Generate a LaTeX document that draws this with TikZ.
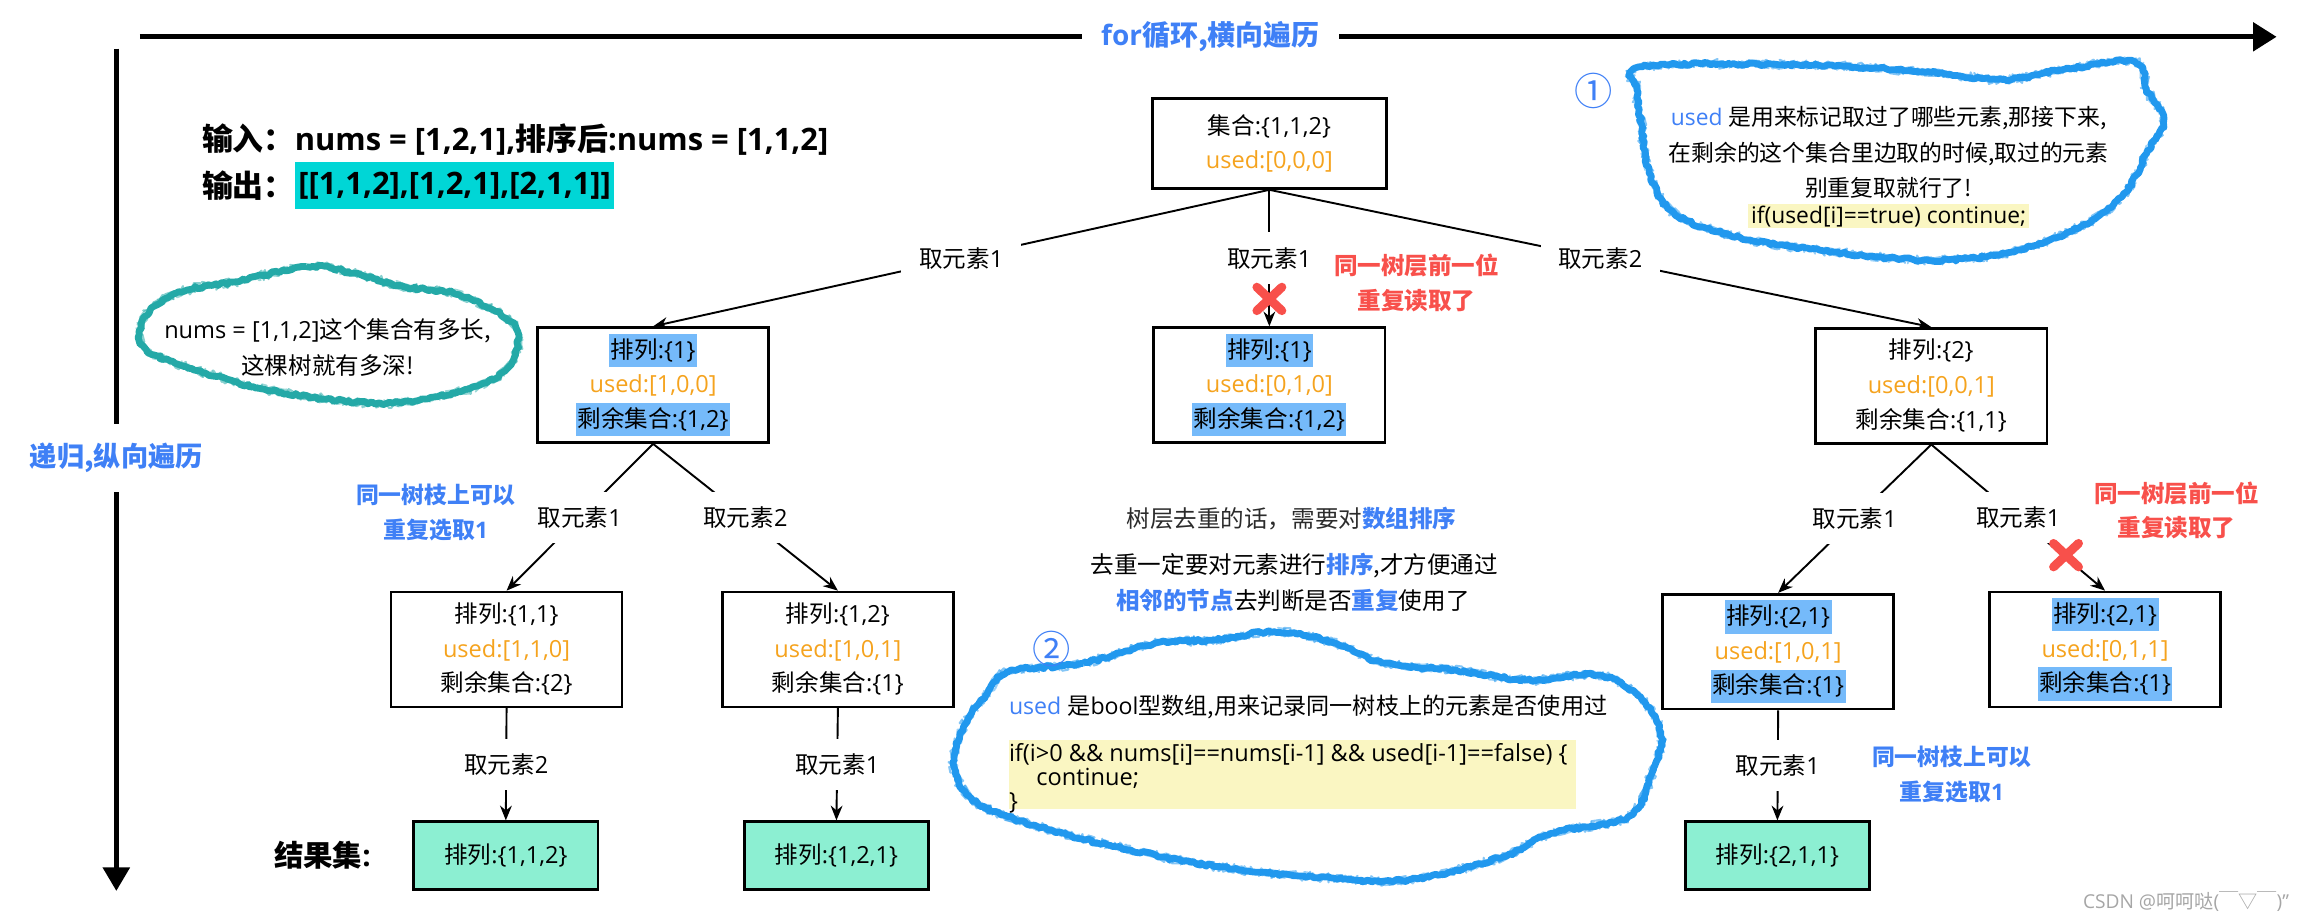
\documentclass[tikz,border=0pt]{standalone}
\usepackage{fontspec}
\setmainfont{Open Sans}
\newfontfamily\cjkfont{Noto Sans CJK SC}
\usetikzlibrary{arrows.meta,decorations.pathmorphing}

\definecolor{axisblue}{HTML}{3F80F6}
\definecolor{usedorange}{HTML}{F5A31E}
\definecolor{warnred}{HTML}{F8504B}
\definecolor{hlblue}{HTML}{75BAFA}
\definecolor{hlcyan}{HTML}{00D6D6}
\definecolor{resmint}{HTML}{8CEFD2}
\definecolor{codeyellow}{HTML}{FAF6C2}
\definecolor{tealink}{HTML}{24A9A7}
\definecolor{skyink}{HTML}{2198EE}
\definecolor{markgray}{HTML}{A6A6A6}
\definecolor{darktext}{HTML}{2B2B2B}

% CJK runs use the CJK font, everything else the Latin one
\newcommand\Zh[1]{{\cjkfont #1}}
\newcommand\LineStrut{\rule[-6pt]{0pt}{22.5pt}}
\newcommand\HiBlue[1]{{\setlength{\fboxsep}{0pt}\colorbox{hlblue}{\kern1pt#1\kern1pt}}}
\newcommand\PermLine[1]{\LineStrut\Zh{排列}:\{#1\}}
\newcommand\RestLine[1]{\LineStrut\Zh{剩余集合}:\{#1\}}
\newcommand\UsedLine[1]{\LineStrut\textcolor{usedorange}{used:[#1]}}

\tikzset{
  statebox/.style={draw, line width=1.8pt, minimum width=157pt, minimum height=78pt,
    inner sep=0pt, align=center, font=\fontsize{16}{23.5}\selectfont},
  resultbox/.style={draw, line width=1.8pt, fill=resmint, minimum width=125pt,
    minimum height=46pt, inner sep=0pt, font=\fontsize{16}{20}\selectfont},
  picklabel/.style={fill=white, inner xsep=12pt, inner ysep=10pt,
    font=\fontsize{16}{20}\selectfont},
  treeedge/.style={line width=1.3pt, -{Stealth[length=10pt,width=8pt]}},
  axisline/.style={line width=3.6pt},
  axislabel/.style={text=axisblue, font=\fontsize{19}{22}\selectfont\bfseries},
  annot/.style={align=center, font=\fontsize{15.5}{24}\selectfont\bfseries},
  crossmark/.style={warnred, line width=6pt, line cap=round},
  % crayon-like outline: a solid core plus two rough, half-transparent passes
  bubbleink/.style={
    preaction={draw=#1, line width=4.6pt, line join=round, decorate,
      decoration={random steps, segment length=2pt, amplitude=1pt}},
    postaction={draw=#1, line width=1.4pt, opacity=0.55, line join=round, decorate,
      decoration={random steps, segment length=1.4pt, amplitude=3.4pt}},
    postaction={draw=#1, line width=1.1pt, opacity=0.45, line join=round, decorate,
      decoration={random steps, segment length=1.2pt, amplitude=3pt}}},
}

\begin{document}
\begin{tikzpicture}[x=1pt,y=-1pt]
\useasboundingbox (0,0) rectangle (1568,625.4);
\pgfmathsetseed{42}

% ---------- axes ----------
\coordinate (hs) at (95,25);
\coordinate (he) at (1546,25);
\node[axislabel, inner xsep=13pt] (ftext) at (822,25) {for\Zh{循环,横向遍历}};
\draw[axisline] (hs) -- (ftext.west);
\draw[axisline, -{Triangle[length=16pt,width=19pt]}] (ftext.east) -- (he);

\coordinate (vs) at (79,33);
\coordinate (ve) at (79,605);
\node[axislabel, font=\fontsize{18.5}{22}\selectfont\bfseries, inner ysep=13pt] (vtext) at (79,311) {\Zh{递归,纵向遍历}};
\draw[line width=3pt] (vs) -- (vtext.north);
\draw[line width=3pt, -{Triangle[length=16pt,width=18pt]}] (vtext.south) -- (ve);

% ---------- input / output ----------
\node[anchor=west, inner sep=0pt, font=\fontsize{21}{24}\selectfont\bfseries] (inp) at (137,95)
  {\Zh{输入：}nums = [1,2,1],\Zh{排序后}:nums = [1,1,2]};
\node[anchor=west, inner sep=0pt, font=\fontsize{21}{24}\selectfont\bfseries] (outlbl) at (137,126)
  {\Zh{输出：}};
\node[anchor=west, fill=hlcyan, inner xsep=2pt, inner ysep=0pt, minimum height=31.5pt,
  font=\fontsize{21}{24}\selectfont\bfseries] (outval) at (outlbl.east)
  {[[1,1,2],[1,2,1],[2,1,1]]};

% ---------- hand-drawn bubbles ----------
\path[bubbleink=tealink] plot[smooth cycle, tension=0.6] coordinates {
  (160.7,191.3) (208.3,181.1) (240,185.6) (273.9,194.7) (307.9,199) (335,210.5)
  (350.9,224) (348.6,244.5) (330.5,260) (296.5,269.4) (262.6,273.9) (217.3,270.5)
  (172,262.6) (126.8,249) (99.6,237.7) (95,224) (104.1,208.3) (126.8,197)};
\node[align=center, font=\fontsize{16}{24}\selectfont] (depthnote) at (222.5,236)
  {nums = [1,1,2]\Zh{这个集合有多长,}\\\Zh{这棵树就有多深!}};

\path[bubbleink=skyink] plot[smooth cycle, tension=0.6] coordinates {
  (1115.8,45.3) (1221.4,44.1) (1305.9,48.7) (1360,54) (1400,47.5) (1449.5,41.9)
  (1457.9,61.1) (1469.2,81.5) (1457.9,104) (1441,133.6) (1412.9,153.9) (1362.2,172)
  (1305.9,176.6) (1235.5,169.8) (1179.2,160.7) (1137,144.9) (1120,117.7)
  (1114.5,83.7) (1111.7,61.1)};
\node[text=axisblue, font=\fontsize{26}{26}\selectfont] (numone) at (1082,62) {\Zh{①}};
\node[align=center, font=\fontsize{15.5}{24}\selectfont] (usednote) at (1282.5,103.5)
  {\textcolor{axisblue}{used} \Zh{是用来标记取过了哪些元素,那接下来,}\\
   \Zh{在剩余的这个集合里边取的时候,取过的元素}\\\Zh{别重复取就行了!}};
\node[fill=codeyellow, inner xsep=2pt, inner ysep=1pt, font=\fontsize{15.5}{18}\selectfont]
  (code1) at (1282.5,147) {if(used[i]==true) continue;};

\path[bubbleink=skyink] plot[smooth cycle, tension=0.6] coordinates {
  (685,456.1) (735.4,450.4) (784.1,436.9) (826.3,434.6) (865.2,429) (907.4,436.9)
  (940,450.4) (988.6,455) (1037.3,461.8) (1085.9,458.4) (1115,475.3) (1128,498)
  (1121.7,525.2) (1105.5,554.6) (1053.2,565.9) (1021,581.7) (956.1,597.6)
  (891.2,595.3) (826.3,588.5) (767.9,577.2) (712.7,563.6) (664,545.5)
  (647.8,520.6) (654.3,493.5) (670.5,470.8)};
\node[text=axisblue, font=\fontsize{26}{26}\selectfont] (numtwo) at (714,441) {\Zh{②}};
\node[anchor=west, inner sep=0pt, font=\fontsize{15.7}{20}\selectfont] (boolnote) at (685,480)
  {\textcolor{axisblue}{used} \Zh{是}bool\Zh{型数组,用来记录同一树枝上的元素是否使用过}};
\node[fill=codeyellow, anchor=north west, minimum width=385pt, minimum height=46.5pt,
  inner sep=0pt] (code2bg) at (685,502.5) {};
\node[anchor=north west, inner sep=0pt, align=left, font=\fontsize{16}{16}\selectfont]
  (code2) at (685,505)
  {if(i>0 \&\& nums[i]==nums[i-1] \&\& used[i-1]==false) \{\\\hspace*{18.6pt}continue;\\\}};

% ---------- explanation in the middle ----------
\node[font=\fontsize{16}{20}\selectfont, text=darktext] (sortnote) at (877,352)
  {\Zh{树层去重的话，需要对}\textcolor{axisblue}{\bfseries\Zh{数组排序}}};
\node[font=\fontsize{16}{20}\selectfont] (sortnote2) at (879,384)
  {\Zh{去重一定要对元素进行}\textcolor{axisblue}{\bfseries\Zh{排序}}\Zh{,才方便通过}};
\node[font=\fontsize{16}{20}\selectfont] (sortnote3) at (878,407.5)
  {\textcolor{axisblue}{\bfseries\Zh{相邻的节点}}\Zh{去判断是否}\textcolor{axisblue}{\bfseries\Zh{重复}}\Zh{使用了}};

% ---------- tree nodes ----------
\node[statebox, minimum width=159pt, minimum height=61pt] (root) at (862,97.5)
  {\LineStrut\Zh{集合}:\{1,1,2\}\\\UsedLine{0,0,0}};

\node[statebox] (l1a) at (443.5,261.5)
  {\HiBlue{\PermLine{1}}\\\UsedLine{1,0,0}\\\HiBlue{\RestLine{1,2}}};
\node[statebox] (l1b) at (862,261.5)
  {\HiBlue{\PermLine{1}}\\\UsedLine{0,1,0}\\\HiBlue{\RestLine{1,2}}};
\node[statebox] (l1c) at (1311.5,262)
  {\PermLine{2}\\\UsedLine{0,0,1}\\\RestLine{1,1}};

\node[statebox] (l2a) at (344,441)
  {\PermLine{1,1}\\\UsedLine{1,1,0}\\\RestLine{2}};
\node[statebox] (l2b) at (569,441)
  {\PermLine{1,2}\\\UsedLine{1,0,1}\\\RestLine{1}};
\node[statebox] (l2c) at (1207.5,442.5)
  {\HiBlue{\PermLine{2,1}}\\\UsedLine{1,0,1}\\\HiBlue{\RestLine{1}}};
\node[statebox] (l2d) at (1429.5,441)
  {\HiBlue{\PermLine{2,1}}\\\UsedLine{0,1,1}\\\HiBlue{\RestLine{1}}};

\node[resultbox] (r1) at (343.5,581) {\Zh{排列}:\{1,1,2\}};
\node[resultbox] (r2) at (568,581) {\Zh{排列}:\{1,2,1\}};
\node[resultbox] (r3) at (1207,581) {\Zh{排列}:\{2,1,1\}};

\node[anchor=east, inner sep=0pt, font=\fontsize{20}{24}\selectfont\bfseries] (reslbl) at (252,581)
  {\Zh{结果集}:};

% ---------- tree edges ----------
\draw[treeedge] (root.south) -- node[picklabel] {\Zh{取元素}1} (l1a.north);
\draw[treeedge] (root.south) -- node[picklabel] {\Zh{取元素}1} (l1b.north);
\draw[treeedge] (root.south) -- node[picklabel] {\Zh{取元素}2} (l1c.north);
\draw[treeedge] (l1a.south) -- node[picklabel] {\Zh{取元素}1} (l2a.north);
\draw[treeedge] (l1a.south) -- node[picklabel] {\Zh{取元素}2} (l2b.north);
\draw[treeedge] (l1c.south) -- node[picklabel] {\Zh{取元素}1} (l2c.north);
\draw[treeedge] (l1c.south) -- node[picklabel] {\Zh{取元素}1} (l2d.north);
\draw[treeedge] (l2a.south) -- node[picklabel] {\Zh{取元素}2} (r1.north);
\draw[treeedge] (l2b.south) -- node[picklabel] {\Zh{取元素}1} (r2.north);
\draw[treeedge] (l2c.south) -- node[picklabel] {\Zh{取元素}1} (r3.north);

% pruned branches
\draw[crossmark] (862,203) +(-8.5,-8) -- +(8.5,8) +(8.5,-8) -- +(-8.5,8);
\draw[crossmark] (1403,377) +(-8.5,-8) -- +(8.5,8) +(8.5,-8) -- +(-8.5,8);

% ---------- annotations ----------
\node[annot, text=warnred, font=\fontsize{16}{24}\selectfont\bfseries] (layer1) at (962,192)
  {\Zh{同一树层前一位}\\\Zh{重复读取了}};
\node[annot, text=warnred, font=\fontsize{16}{23}\selectfont\bfseries] (layer2) at (1478,346.5)
  {\Zh{同一树层前一位}\\\Zh{重复读取了}};
\node[annot, text=axisblue] (branch1) at (296,348)
  {\Zh{同一树枝上可以}\\\Zh{重复选取}1};
\node[annot, text=axisblue] (branch2) at (1325.5,526)
  {\Zh{同一树枝上可以}\\\Zh{重复选取}1};

\node[anchor=east, text=markgray, font=\fontsize{13}{13}\selectfont] (wm) at (1558,612.5)
  {CSDN @\Zh{呵呵哒}(\Zh{￣▽￣})"};
\end{tikzpicture}
\end{document}
